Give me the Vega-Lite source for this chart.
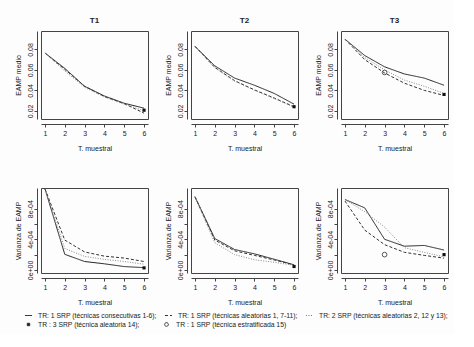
{
  "$schema": "https://vega.github.io/schema/vega-lite/v6.json",
  "background": "#fdfdfd",
  "padding": {"left": 13, "top": 17, "right": 5, "bottom": 5},
  "config": {
    "font": "Liberation Sans",
    "view": {"stroke": "#444", "strokeWidth": 1},
    "axis": {"labelFontSize": 7, "titleFontSize": 7, "titleFontWeight": "normal", "labelColor": "#222", "titleColor": "#222", "domainColor": "#444", "tickColor": "#444", "grid": false, "tickSize": 3, "offset": 4, "labelPadding": 2},
    "legend": {"orient": "none", "legendX": -17, "legendY": 280, "direction": "horizontal", "columns": 3, "gridAlign": "none", "labelFontSize": 6.8, "labelLimit": 400, "labelColor": "#222", "symbolSize": 50, "symbolStrokeWidth": 1, "columnPadding": 5, "rowPadding": 0, "labelOffset": 5, "title": null}
  },
  "datasets": {
    "d": [
      {"fila": "media", "panel": "T1", "serie": "TR: 1 SRP (técnicas consecutivas 1-6);", "x": 1, "y": 0.0765},
      {"fila": "media", "panel": "T1", "serie": "TR: 1 SRP (técnicas consecutivas 1-6);", "x": 2, "y": 0.0615},
      {"fila": "media", "panel": "T1", "serie": "TR: 1 SRP (técnicas consecutivas 1-6);", "x": 3, "y": 0.044},
      {"fila": "media", "panel": "T1", "serie": "TR: 1 SRP (técnicas consecutivas 1-6);", "x": 4, "y": 0.0345},
      {"fila": "media", "panel": "T1", "serie": "TR: 1 SRP (técnicas consecutivas 1-6);", "x": 5, "y": 0.0274},
      {"fila": "media", "panel": "T1", "serie": "TR: 1 SRP (técnicas consecutivas 1-6);", "x": 6, "y": 0.0226},
      {"fila": "media", "panel": "T1", "serie": "TR: 1 SRP (técnicas aleatorias 1, 7-11);", "x": 1, "y": 0.0765},
      {"fila": "media", "panel": "T1", "serie": "TR: 1 SRP (técnicas aleatorias 1, 7-11);", "x": 2, "y": 0.0605},
      {"fila": "media", "panel": "T1", "serie": "TR: 1 SRP (técnicas aleatorias 1, 7-11);", "x": 3, "y": 0.044},
      {"fila": "media", "panel": "T1", "serie": "TR: 1 SRP (técnicas aleatorias 1, 7-11);", "x": 4, "y": 0.034},
      {"fila": "media", "panel": "T1", "serie": "TR: 1 SRP (técnicas aleatorias 1, 7-11);", "x": 5, "y": 0.027},
      {"fila": "media", "panel": "T1", "serie": "TR: 1 SRP (técnicas aleatorias 1, 7-11);", "x": 6, "y": 0.0177},
      {"fila": "media", "panel": "T1", "serie": "TR: 2 SRP (técnicas aleatorias 2, 12 y 13);", "x": 1, "y": 0.0765},
      {"fila": "media", "panel": "T1", "serie": "TR: 2 SRP (técnicas aleatorias 2, 12 y 13);", "x": 2, "y": 0.059},
      {"fila": "media", "panel": "T1", "serie": "TR: 2 SRP (técnicas aleatorias 2, 12 y 13);", "x": 3, "y": 0.043},
      {"fila": "media", "panel": "T1", "serie": "TR: 2 SRP (técnicas aleatorias 2, 12 y 13);", "x": 4, "y": 0.0335},
      {"fila": "media", "panel": "T1", "serie": "TR: 2 SRP (técnicas aleatorias 2, 12 y 13);", "x": 5, "y": 0.0265},
      {"fila": "media", "panel": "T1", "serie": "TR: 2 SRP (técnicas aleatorias 2, 12 y 13);", "x": 6, "y": 0.020},
      {"fila": "media", "panel": "T1", "serie": "TR : 3 SRP (técnica aleatoria 14);", "x": 6, "y": 0.0206},

      {"fila": "media", "panel": "T2", "serie": "TR: 1 SRP (técnicas consecutivas 1-6);", "x": 1, "y": 0.083},
      {"fila": "media", "panel": "T2", "serie": "TR: 1 SRP (técnicas consecutivas 1-6);", "x": 2, "y": 0.064},
      {"fila": "media", "panel": "T2", "serie": "TR: 1 SRP (técnicas consecutivas 1-6);", "x": 3, "y": 0.052},
      {"fila": "media", "panel": "T2", "serie": "TR: 1 SRP (técnicas consecutivas 1-6);", "x": 4, "y": 0.045},
      {"fila": "media", "panel": "T2", "serie": "TR: 1 SRP (técnicas consecutivas 1-6);", "x": 5, "y": 0.037},
      {"fila": "media", "panel": "T2", "serie": "TR: 1 SRP (técnicas consecutivas 1-6);", "x": 6, "y": 0.0265},
      {"fila": "media", "panel": "T2", "serie": "TR: 1 SRP (técnicas aleatorias 1, 7-11);", "x": 1, "y": 0.083},
      {"fila": "media", "panel": "T2", "serie": "TR: 1 SRP (técnicas aleatorias 1, 7-11);", "x": 2, "y": 0.0625},
      {"fila": "media", "panel": "T2", "serie": "TR: 1 SRP (técnicas aleatorias 1, 7-11);", "x": 3, "y": 0.0495},
      {"fila": "media", "panel": "T2", "serie": "TR: 1 SRP (técnicas aleatorias 1, 7-11);", "x": 4, "y": 0.0405},
      {"fila": "media", "panel": "T2", "serie": "TR: 1 SRP (técnicas aleatorias 1, 7-11);", "x": 5, "y": 0.0325},
      {"fila": "media", "panel": "T2", "serie": "TR: 1 SRP (técnicas aleatorias 1, 7-11);", "x": 6, "y": 0.024},
      {"fila": "media", "panel": "T2", "serie": "TR: 2 SRP (técnicas aleatorias 2, 12 y 13);", "x": 1, "y": 0.083},
      {"fila": "media", "panel": "T2", "serie": "TR: 2 SRP (técnicas aleatorias 2, 12 y 13);", "x": 2, "y": 0.062},
      {"fila": "media", "panel": "T2", "serie": "TR: 2 SRP (técnicas aleatorias 2, 12 y 13);", "x": 3, "y": 0.049},
      {"fila": "media", "panel": "T2", "serie": "TR: 2 SRP (técnicas aleatorias 2, 12 y 13);", "x": 4, "y": 0.040},
      {"fila": "media", "panel": "T2", "serie": "TR: 2 SRP (técnicas aleatorias 2, 12 y 13);", "x": 5, "y": 0.032},
      {"fila": "media", "panel": "T2", "serie": "TR: 2 SRP (técnicas aleatorias 2, 12 y 13);", "x": 6, "y": 0.0235},
      {"fila": "media", "panel": "T2", "serie": "TR : 3 SRP (técnica aleatoria 14);", "x": 6, "y": 0.024},

      {"fila": "media", "panel": "T3", "serie": "TR: 1 SRP (técnicas consecutivas 1-6);", "x": 1, "y": 0.090},
      {"fila": "media", "panel": "T3", "serie": "TR: 1 SRP (técnicas consecutivas 1-6);", "x": 2, "y": 0.074},
      {"fila": "media", "panel": "T3", "serie": "TR: 1 SRP (técnicas consecutivas 1-6);", "x": 3, "y": 0.063},
      {"fila": "media", "panel": "T3", "serie": "TR: 1 SRP (técnicas consecutivas 1-6);", "x": 4, "y": 0.056},
      {"fila": "media", "panel": "T3", "serie": "TR: 1 SRP (técnicas consecutivas 1-6);", "x": 5, "y": 0.052},
      {"fila": "media", "panel": "T3", "serie": "TR: 1 SRP (técnicas consecutivas 1-6);", "x": 6, "y": 0.045},
      {"fila": "media", "panel": "T3", "serie": "TR: 1 SRP (técnicas aleatorias 1, 7-11);", "x": 1, "y": 0.090},
      {"fila": "media", "panel": "T3", "serie": "TR: 1 SRP (técnicas aleatorias 1, 7-11);", "x": 2, "y": 0.070},
      {"fila": "media", "panel": "T3", "serie": "TR: 1 SRP (técnicas aleatorias 1, 7-11);", "x": 3, "y": 0.057},
      {"fila": "media", "panel": "T3", "serie": "TR: 1 SRP (técnicas aleatorias 1, 7-11);", "x": 4, "y": 0.047},
      {"fila": "media", "panel": "T3", "serie": "TR: 1 SRP (técnicas aleatorias 1, 7-11);", "x": 5, "y": 0.040},
      {"fila": "media", "panel": "T3", "serie": "TR: 1 SRP (técnicas aleatorias 1, 7-11);", "x": 6, "y": 0.035},
      {"fila": "media", "panel": "T3", "serie": "TR: 2 SRP (técnicas aleatorias 2, 12 y 13);", "x": 1, "y": 0.090},
      {"fila": "media", "panel": "T3", "serie": "TR: 2 SRP (técnicas aleatorias 2, 12 y 13);", "x": 2, "y": 0.072},
      {"fila": "media", "panel": "T3", "serie": "TR: 2 SRP (técnicas aleatorias 2, 12 y 13);", "x": 3, "y": 0.060},
      {"fila": "media", "panel": "T3", "serie": "TR: 2 SRP (técnicas aleatorias 2, 12 y 13);", "x": 4, "y": 0.050},
      {"fila": "media", "panel": "T3", "serie": "TR: 2 SRP (técnicas aleatorias 2, 12 y 13);", "x": 5, "y": 0.044},
      {"fila": "media", "panel": "T3", "serie": "TR: 2 SRP (técnicas aleatorias 2, 12 y 13);", "x": 6, "y": 0.037},
      {"fila": "media", "panel": "T3", "serie": "TR : 3 SRP (técnica aleatoria 14);", "x": 6, "y": 0.036},
      {"fila": "media", "panel": "T3", "serie": "TR : 1 SRP (técnica estratificada 15)", "x": 3, "y": 0.0575},

      {"fila": "varianza", "panel": "T1", "serie": "TR: 1 SRP (técnicas consecutivas 1-6);", "x": 1, "y": 0.00106},
      {"fila": "varianza", "panel": "T1", "serie": "TR: 1 SRP (técnicas consecutivas 1-6);", "x": 2, "y": 0.000204},
      {"fila": "varianza", "panel": "T1", "serie": "TR: 1 SRP (técnicas consecutivas 1-6);", "x": 3, "y": 0.00011},
      {"fila": "varianza", "panel": "T1", "serie": "TR: 1 SRP (técnicas consecutivas 1-6);", "x": 4, "y": 0.00008},
      {"fila": "varianza", "panel": "T1", "serie": "TR: 1 SRP (técnicas consecutivas 1-6);", "x": 5, "y": 0.000044},
      {"fila": "varianza", "panel": "T1", "serie": "TR: 1 SRP (técnicas consecutivas 1-6);", "x": 6, "y": 0.00003},
      {"fila": "varianza", "panel": "T1", "serie": "TR: 1 SRP (técnicas aleatorias 1, 7-11);", "x": 1, "y": 0.00106},
      {"fila": "varianza", "panel": "T1", "serie": "TR: 1 SRP (técnicas aleatorias 1, 7-11);", "x": 2, "y": 0.00039},
      {"fila": "varianza", "panel": "T1", "serie": "TR: 1 SRP (técnicas aleatorias 1, 7-11);", "x": 3, "y": 0.000235},
      {"fila": "varianza", "panel": "T1", "serie": "TR: 1 SRP (técnicas aleatorias 1, 7-11);", "x": 4, "y": 0.00018},
      {"fila": "varianza", "panel": "T1", "serie": "TR: 1 SRP (técnicas aleatorias 1, 7-11);", "x": 5, "y": 0.000155},
      {"fila": "varianza", "panel": "T1", "serie": "TR: 1 SRP (técnicas aleatorias 1, 7-11);", "x": 6, "y": 0.00011},
      {"fila": "varianza", "panel": "T1", "serie": "TR: 2 SRP (técnicas aleatorias 2, 12 y 13);", "x": 1, "y": 0.00106},
      {"fila": "varianza", "panel": "T1", "serie": "TR: 2 SRP (técnicas aleatorias 2, 12 y 13);", "x": 2, "y": 0.00028},
      {"fila": "varianza", "panel": "T1", "serie": "TR: 2 SRP (técnicas aleatorias 2, 12 y 13);", "x": 3, "y": 0.000177},
      {"fila": "varianza", "panel": "T1", "serie": "TR: 2 SRP (técnicas aleatorias 2, 12 y 13);", "x": 4, "y": 0.000137},
      {"fila": "varianza", "panel": "T1", "serie": "TR: 2 SRP (técnicas aleatorias 2, 12 y 13);", "x": 5, "y": 0.00011},
      {"fila": "varianza", "panel": "T1", "serie": "TR: 2 SRP (técnicas aleatorias 2, 12 y 13);", "x": 6, "y": 0.000075},
      {"fila": "varianza", "panel": "T1", "serie": "TR : 3 SRP (técnica aleatoria 14);", "x": 6, "y": 0.000027},

      {"fila": "varianza", "panel": "T2", "serie": "TR: 1 SRP (técnicas consecutivas 1-6);", "x": 1, "y": 0.000956},
      {"fila": "varianza", "panel": "T2", "serie": "TR: 1 SRP (técnicas consecutivas 1-6);", "x": 2, "y": 0.00041},
      {"fila": "varianza", "panel": "T2", "serie": "TR: 1 SRP (técnicas consecutivas 1-6);", "x": 3, "y": 0.000267},
      {"fila": "varianza", "panel": "T2", "serie": "TR: 1 SRP (técnicas consecutivas 1-6);", "x": 4, "y": 0.00021},
      {"fila": "varianza", "panel": "T2", "serie": "TR: 1 SRP (técnicas consecutivas 1-6);", "x": 5, "y": 0.00014},
      {"fila": "varianza", "panel": "T2", "serie": "TR: 1 SRP (técnicas consecutivas 1-6);", "x": 6, "y": 0.000067},
      {"fila": "varianza", "panel": "T2", "serie": "TR: 1 SRP (técnicas aleatorias 1, 7-11);", "x": 1, "y": 0.000956},
      {"fila": "varianza", "panel": "T2", "serie": "TR: 1 SRP (técnicas aleatorias 1, 7-11);", "x": 2, "y": 0.00039},
      {"fila": "varianza", "panel": "T2", "serie": "TR: 1 SRP (técnicas aleatorias 1, 7-11);", "x": 3, "y": 0.00025},
      {"fila": "varianza", "panel": "T2", "serie": "TR: 1 SRP (técnicas aleatorias 1, 7-11);", "x": 4, "y": 0.00019},
      {"fila": "varianza", "panel": "T2", "serie": "TR: 1 SRP (técnicas aleatorias 1, 7-11);", "x": 5, "y": 0.00013},
      {"fila": "varianza", "panel": "T2", "serie": "TR: 1 SRP (técnicas aleatorias 1, 7-11);", "x": 6, "y": 0.000065},
      {"fila": "varianza", "panel": "T2", "serie": "TR: 2 SRP (técnicas aleatorias 2, 12 y 13);", "x": 1, "y": 0.000956},
      {"fila": "varianza", "panel": "T2", "serie": "TR: 2 SRP (técnicas aleatorias 2, 12 y 13);", "x": 2, "y": 0.000355},
      {"fila": "varianza", "panel": "T2", "serie": "TR: 2 SRP (técnicas aleatorias 2, 12 y 13);", "x": 3, "y": 0.0002},
      {"fila": "varianza", "panel": "T2", "serie": "TR: 2 SRP (técnicas aleatorias 2, 12 y 13);", "x": 4, "y": 0.000133},
      {"fila": "varianza", "panel": "T2", "serie": "TR: 2 SRP (técnicas aleatorias 2, 12 y 13);", "x": 5, "y": 0.0001},
      {"fila": "varianza", "panel": "T2", "serie": "TR: 2 SRP (técnicas aleatorias 2, 12 y 13);", "x": 6, "y": 0.00006},
      {"fila": "varianza", "panel": "T2", "serie": "TR : 3 SRP (técnica aleatoria 14);", "x": 6, "y": 0.000045},

      {"fila": "varianza", "panel": "T3", "serie": "TR: 1 SRP (técnicas consecutivas 1-6);", "x": 1, "y": 0.00092},
      {"fila": "varianza", "panel": "T3", "serie": "TR: 1 SRP (técnicas consecutivas 1-6);", "x": 2, "y": 0.00081},
      {"fila": "varianza", "panel": "T3", "serie": "TR: 1 SRP (técnicas consecutivas 1-6);", "x": 3, "y": 0.0004},
      {"fila": "varianza", "panel": "T3", "serie": "TR: 1 SRP (técnicas consecutivas 1-6);", "x": 4, "y": 0.00031},
      {"fila": "varianza", "panel": "T3", "serie": "TR: 1 SRP (técnicas consecutivas 1-6);", "x": 5, "y": 0.00032},
      {"fila": "varianza", "panel": "T3", "serie": "TR: 1 SRP (técnicas consecutivas 1-6);", "x": 6, "y": 0.00026},
      {"fila": "varianza", "panel": "T3", "serie": "TR: 1 SRP (técnicas aleatorias 1, 7-11);", "x": 1, "y": 0.0009},
      {"fila": "varianza", "panel": "T3", "serie": "TR: 1 SRP (técnicas aleatorias 1, 7-11);", "x": 2, "y": 0.00052},
      {"fila": "varianza", "panel": "T3", "serie": "TR: 1 SRP (técnicas aleatorias 1, 7-11);", "x": 3, "y": 0.00033},
      {"fila": "varianza", "panel": "T3", "serie": "TR: 1 SRP (técnicas aleatorias 1, 7-11);", "x": 4, "y": 0.00023},
      {"fila": "varianza", "panel": "T3", "serie": "TR: 1 SRP (técnicas aleatorias 1, 7-11);", "x": 5, "y": 0.00019},
      {"fila": "varianza", "panel": "T3", "serie": "TR: 1 SRP (técnicas aleatorias 1, 7-11);", "x": 6, "y": 0.000154},
      {"fila": "varianza", "panel": "T3", "serie": "TR: 2 SRP (técnicas aleatorias 2, 12 y 13);", "x": 1, "y": 0.00092},
      {"fila": "varianza", "panel": "T3", "serie": "TR: 2 SRP (técnicas aleatorias 2, 12 y 13);", "x": 2, "y": 0.00076},
      {"fila": "varianza", "panel": "T3", "serie": "TR: 2 SRP (técnicas aleatorias 2, 12 y 13);", "x": 3, "y": 0.00056},
      {"fila": "varianza", "panel": "T3", "serie": "TR: 2 SRP (técnicas aleatorias 2, 12 y 13);", "x": 4, "y": 0.00029},
      {"fila": "varianza", "panel": "T3", "serie": "TR: 2 SRP (técnicas aleatorias 2, 12 y 13);", "x": 5, "y": 0.00023},
      {"fila": "varianza", "panel": "T3", "serie": "TR: 2 SRP (técnicas aleatorias 2, 12 y 13);", "x": 6, "y": 0.00017},
      {"fila": "varianza", "panel": "T3", "serie": "TR : 3 SRP (técnica aleatoria 14);", "x": 6, "y": 0.0002},
      {"fila": "varianza", "panel": "T3", "serie": "TR : 1 SRP (técnica estratificada 15)", "x": 3, "y": 0.0002}
    ]
  },
  "vconcat": [
    {
      "data": {"name": "d"},
      "transform": [{"filter": "datum.fila == 'media'"}],
      "facet": {"column": {"field": "panel", "type": "nominal", "header": {"title": null, "labelFontSize": 8, "labelFontWeight": "bold", "labelPadding": 5, "labelColor": "#222"}}},
      "spacing": 14,
      "resolve": {"axis": {"x": "independent", "y": "independent"}},
      "spec": {
        "width": 107,
        "height": 88,
        "encoding": {
          "x": {"field": "x", "type": "quantitative", "scale": {"domain": [0.8, 6.2], "nice": false, "zero": false}, "axis": {"values": [1, 2, 3, 4, 5, 6], "format": "d", "title": "T. muestral", "titleColor": "#222", "titlePadding": 8, "offset": 5}},
          "y": {"field": "y", "type": "quantitative", "scale": {"domain": [0.012, 0.098], "nice": false, "zero": false}, "axis": {"values": [0.02, 0.04, 0.06, 0.08], "format": ".2f", "title": "EAMP medio", "titleColor": "#222", "labelAngle": -90, "labelAlign": "center", "labelBaseline": "bottom", "labelPadding": 1, "titlePadding": 5}}
        },
        "layer": [
          {
            "transform": [{"filter": "indexof(datum.serie, 'SRP (técnicas') >= 0"}],
            "mark": {"type": "line", "strokeWidth": 1},
            "encoding": {
              "color": {"field": "serie", "type": "nominal", "scale": {"range": ["#333333", "#222222", "#8a8a8a"]}, "legend": null},
              "strokeDash": {"field": "serie", "type": "nominal", "scale": {"domain": ["TR: 1 SRP (técnicas consecutivas 1-6);", "TR: 1 SRP (técnicas aleatorias 1, 7-11);", "TR: 2 SRP (técnicas aleatorias 2, 12 y 13);", "TR : 3 SRP (técnica aleatoria 14);", "TR : 1 SRP (técnica estratificada 15)"], "range": [[1, 0], [3, 2], [1, 1.5], [1, 0], [1, 0]]},
                "legend": {"gridAlign": "none", "orient": "none", "legendX": -17, "legendY": 280, "encode": {"symbols": {"update": {"size": {"signal": "datum.index == 3 ? 6 : datum.index == 4 ? 14 : 50"}, "fill": {"signal": "datum.index == 3 ? '#111' : 'transparent'"}, "stroke": {"signal": "datum.index == 2 ? '#777' : '#333'"}, "strokeWidth": {"value": 1}}}}}}
            }
          },
          {
            "transform": [{"filter": "datum.serie == 'TR : 3 SRP (técnica aleatoria 14);'"}],
            "mark": {"type": "point", "filled": true, "size": 10, "color": "#111", "opacity": 1},
            "encoding": {
              "shape": {"field": "serie", "type": "nominal", "scale": {"domain": ["TR: 1 SRP (técnicas consecutivas 1-6);", "TR: 1 SRP (técnicas aleatorias 1, 7-11);", "TR: 2 SRP (técnicas aleatorias 2, 12 y 13);", "TR : 3 SRP (técnica aleatoria 14);", "TR : 1 SRP (técnica estratificada 15)"], "range": ["stroke", "stroke", "stroke", "square", "circle"]},
                "legend": {"gridAlign": "none", "orient": "none", "legendX": -17, "legendY": 280, "encode": {"symbols": {"update": {"size": {"signal": "datum.index == 3 ? 6 : datum.index == 4 ? 14 : 50"}, "fill": {"signal": "datum.index == 3 ? '#111' : 'transparent'"}, "stroke": {"signal": "datum.index == 2 ? '#777' : '#333'"}, "strokeWidth": {"value": 1}}}}}}
            }
          },
          {
            "transform": [{"filter": "datum.serie == 'TR : 1 SRP (técnica estratificada 15)'"}],
            "mark": {"type": "point", "filled": false, "size": 22, "stroke": "#555", "strokeWidth": 1, "opacity": 1},
            "encoding": {
              "shape": {"field": "serie", "type": "nominal"}
            }
          }
        ]
      }
    },
    {
      "data": {"name": "d"},
      "transform": [{"filter": "datum.fila == 'varianza'"}],
      "facet": {"column": {"field": "panel", "type": "nominal", "header": {"title": null, "labels": false}}},
      "spacing": 14,
      "resolve": {"axis": {"x": "independent", "y": "independent"}},
      "spec": {
        "width": 107,
        "height": 85,
        "encoding": {
          "x": {"field": "x", "type": "quantitative", "scale": {"domain": [0.8, 6.2], "nice": false, "zero": false}, "axis": {"values": [1, 2, 3, 4, 5, 6], "format": "d", "title": "T. muestral", "titleColor": "#222", "titlePadding": 8, "offset": 5}},
          "y": {"field": "y", "type": "quantitative", "scale": {"domain": [-0.00004, 0.00107], "nice": false, "zero": false}, "axis": {"values": [0, 0.0002, 0.0004, 0.0006, 0.0008], "labelExpr": "datum.value == 0 ? '0e+00' : abs(datum.value - 0.0004) < 1e-9 ? '4e-04' : abs(datum.value - 0.0008) < 1e-9 ? '8e-04' : ''", "title": "Varianza de EAMP", "titleColor": "#222", "labelAngle": -90, "labelAlign": "center", "labelBaseline": "bottom", "labelPadding": 1, "titlePadding": 5}}
        },
        "layer": [
          {
            "transform": [{"filter": "indexof(datum.serie, 'SRP (técnicas') >= 0"}],
            "mark": {"type": "line", "strokeWidth": 1},
            "encoding": {
              "color": {"field": "serie", "type": "nominal", "legend": null},
              "strokeDash": {"field": "serie", "type": "nominal"}
            }
          },
          {
            "transform": [{"filter": "datum.serie == 'TR : 3 SRP (técnica aleatoria 14);'"}],
            "mark": {"type": "point", "filled": true, "size": 10, "color": "#111", "opacity": 1},
            "encoding": {"shape": {"field": "serie", "type": "nominal"}}
          },
          {
            "transform": [{"filter": "datum.serie == 'TR : 1 SRP (técnica estratificada 15)'"}],
            "mark": {"type": "point", "filled": false, "size": 22, "stroke": "#555", "strokeWidth": 1, "opacity": 1},
            "encoding": {"shape": {"field": "serie", "type": "nominal"}}
          }
        ]
      }
    }
  ],
  "spacing": 34
}
